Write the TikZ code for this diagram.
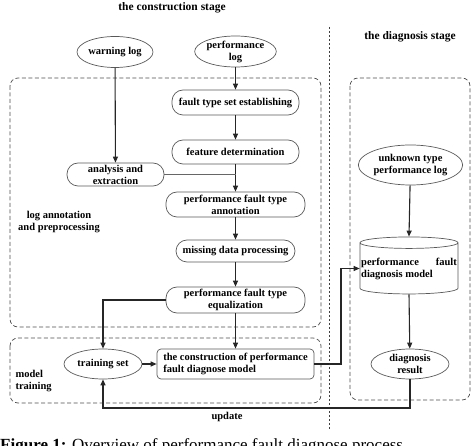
\documentclass[tikz,border=0pt]{standalone}
\usepackage{fontspec}
\setmainfont{Liberation Serif}
\usepackage{tikz}
\usetikzlibrary{shapes.geometric, arrows.meta}

\begin{document}
\begin{tikzpicture}[x=1pt, y=-1pt,
		every node/.style={font=\fontsize{10.5}{12}\selectfont\bfseries},
		stadium/.style={draw=black!65, line width=0.7pt, rounded corners=11pt, align=center, inner sep=0pt},
		oval/.style={ellipse, draw=black!65, line width=0.7pt, align=center, inner sep=0pt},
		stagebox/.style={draw=black!70, line width=0.7pt, dash pattern=on 4pt off 2.5pt, rounded corners=8pt},
		flow/.style={->, >={Triangle[length=6pt, width=5pt]}, line width=1.1pt, black!85}]
		\useasboundingbox (0,0) rectangle (474,446);
		% stage frames
		\draw [stagebox] (10,78) rectangle (321,327);
		\draw [stagebox] (10,338) rectangle (321,403);
		\draw [stagebox] (350,78) rectangle (470,400);
		\draw [dash pattern=on 2pt off 2pt, line width=0.9pt, black!75] (329,27) -- (329,430);
		\node (conststage) at (172,8) {\fontsize{11.5}{13}\selectfont the construction stage};
		\node (diagstage) at (410,37) {\fontsize{11.5}{13}\selectfont the diagnosis stage};
		\node[align=center] (annolabel) at (59,222) {log annotation\\and preprocessing};
		\node[anchor=west, align=left] (trainlabel) at (12,381) {model\\training};
		% construction stage
		\node[oval, minimum width=76pt, minimum height=31pt] (warnlog) at (115,52) {warning log};
		\node[oval, minimum width=77pt, minimum height=31pt] (perflog) at (235.5,51.5) {performance\\log};
		\node[stadium, minimum width=127pt, minimum height=25pt] (typeset) at (235.5,102.5) {fault type set establishing};
		\node[stadium, minimum width=127pt, minimum height=24pt] (featdet) at (235.5,152) {feature determination};
		\node[stadium, minimum width=97pt, minimum height=23pt] (analysis) at (115.5,174.5) {analysis and\\extraction};
		\node[stadium, minimum width=139pt, minimum height=25pt] (annot) at (235.5,204.5) {performance fault type\\annotation};
		\node[stadium, minimum width=119pt, minimum height=22pt] (missing) at (235.5,251) {missing data processing};
		\node[stadium, minimum width=139pt, minimum height=26pt] (equal) at (235.5,300) {performance fault type\\equalization};
		\node[oval, minimum width=78pt, minimum height=30pt] (trainset) at (103,364) {training set};
		\node[draw=black!65, line width=0.7pt, rounded corners=4pt, align=left, inner sep=0pt, minimum width=157pt, minimum height=30pt] (construct) at (235.5,364) {the construction of performance\\fault diagnose model};
		% diagnosis stage
		\node[oval, minimum width=97pt, minimum height=40pt] (unknown) at (410.5,165) {unknown type\\performance log};
		\node[cylinder, shape border rotate=90, aspect=0.12, draw=black!65, line width=0.7pt, align=left, inner sep=0pt, minimum width=98pt, minimum height=57pt] (model) at (409,268.5) {performance\hspace{1.6em}fault\\diagnosis model};
		\node[oval, minimum width=78pt, minimum height=30pt] (result) at (410,364) {diagnosis\\result};
		\coordinate (bend) at (341,364);
		\coordinate (upd) at (227,408);
		% connectors
		\draw [flow] (warnlog) -- (analysis);
		\draw [flow] (perflog) -- (typeset);
		\draw [flow] (typeset) -- (featdet);
		\draw [flow] (featdet) -- (annot);
		\draw [line width=1.1pt, black!60] (analysis.east) -- (analysis.east -| featdet.south);
		\draw [flow] (annot) -- (missing);
		\draw [flow] (missing) -- (equal);
		\draw [flow] (equal) -- (construct);
		\draw [flow] (equal.west) -| (trainset.north);
		\draw [flow] (trainset) -- (construct);
		\draw [flow] (construct.east) -- (bend) |- (model.west);
		\draw [flow] (unknown) -- (model.north);
		\draw [flow] (model.south) -- (result);
		\draw [flow] (result.south) |- (upd) -| (trainset.south);
		\node[below=1pt] (updlabel) at (upd) {update};
		\node[anchor=base west, inner sep=0pt, font=\fontsize{17}{20}\selectfont] (caption) at (0,450.5) {\textbf{Figure 1:} Overview of performance fault diagnose process};
\end{tikzpicture}
\end{document}
